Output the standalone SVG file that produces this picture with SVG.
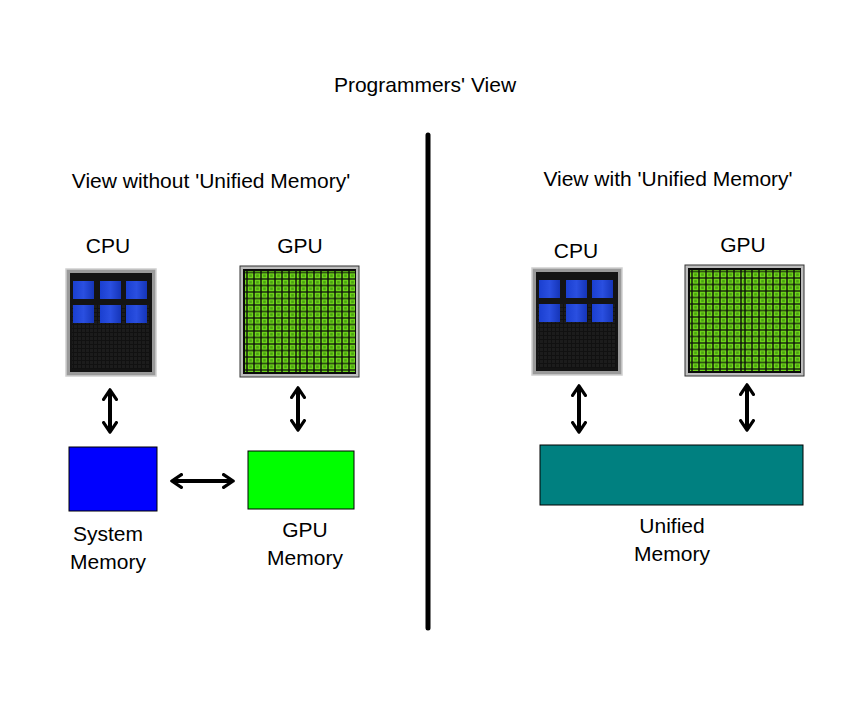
<svg xmlns="http://www.w3.org/2000/svg" width="850" height="708" viewBox="0 0 850 708">
<style>
text{font-family:"Liberation Sans",Arial,sans-serif;font-size:21px;fill:#000;text-anchor:middle}
.arr{stroke:#000;stroke-width:4;fill:none;stroke-linecap:round;stroke-linejoin:round}
</style>
<defs>
<pattern id="g" x="0" y="0" width="7" height="6.5" patternUnits="userSpaceOnUse">
<rect width="7" height="6.5" fill="#0a0a0a"/>
<rect x="0.7" y="0.6" width="5.6" height="5.3" fill="#6fd61a"/>
<rect x="2.2" y="2" width="2.6" height="2.5" fill="#4aa012"/>
</pattern>
<pattern id="d" width="4" height="4" patternUnits="userSpaceOnUse">
<rect width="4" height="4" fill="#111"/><rect width="3" height="3" fill="#1c1c1c"/>
</pattern>
<linearGradient id="b" x1="0" x2="1"><stop offset="0" stop-color="#1a3fd0"/><stop offset="0.5" stop-color="#2a4fe0"/><stop offset="1" stop-color="#1535b8"/></linearGradient>
<g id="cpu">
<rect x="0" y="0" width="90" height="107" fill="#9a9a9a" stroke="#cfcfcf" stroke-width="1.5"/>
<rect x="4" y="4" width="82" height="99" fill="#141414"/>
<rect x="6" y="36" width="78" height="64" fill="url(#d)"/>
<rect x="7" y="12" width="21" height="18" fill="url(#b)"/>
<rect x="34" y="12" width="21" height="18" fill="url(#b)"/>
<rect x="60" y="12" width="21" height="18" fill="url(#b)"/>
<rect x="7" y="36" width="21" height="18" fill="url(#b)"/>
<rect x="34" y="36" width="21" height="18" fill="url(#b)"/>
<rect x="60" y="36" width="21" height="18" fill="url(#b)"/>
</g>
<g id="gpu">
<rect x="0" y="0" width="119" height="111" fill="#bdbdbd" stroke="#333" stroke-width="1"/>
<rect x="3" y="3" width="113" height="105" fill="#0a0a0a"/>
<rect x="5" y="5" width="56" height="101" fill="url(#g)"/>
<rect x="62" y="5" width="56" height="101" fill="url(#g)" transform="translate(-3 0)"/>
</g>
<marker id="ah" viewBox="0 0 10 10" refX="5" refY="5" markerWidth="4" markerHeight="4" orient="auto-start-reverse" markerUnits="strokeWidth">
<polyline points="1,1 7,5 1,9" fill="none" stroke="#000" stroke-width="2" stroke-linecap="round" stroke-linejoin="round"/>
</marker>
</defs>
<rect width="850" height="708" fill="#fff"/>
<text x="425" y="92">Programmers' View</text>
<text x="211" y="188">View without 'Unified Memory'</text>
<text x="668" y="186">View with 'Unified Memory'</text>
<g id="divider"><line x1="428" y1="135" x2="428" y2="628" stroke="#000" stroke-width="5" stroke-linecap="round"/></g>
<g id="cpu-left"><text x="108" y="253">CPU</text><use href="#cpu" x="66" y="269"/></g>
<g id="gpu-left"><text x="300" y="253">GPU</text><use href="#gpu" x="240" y="266"/></g>
<g id="cpu-right"><text x="576" y="258">CPU</text><use href="#cpu" x="532" y="268"/></g>
<g id="gpu-right"><text x="743" y="252">GPU</text><use href="#gpu" x="685" y="265"/></g>
<g id="sysmem"><rect x="69" y="447" width="88" height="64" fill="#0000ff" stroke="#000" stroke-width="1"/><text x="108" y="541">System</text><text x="108" y="569">Memory</text></g>
<g id="gpumem"><rect x="248" y="451" width="106" height="58" fill="#00ff00" stroke="#000" stroke-width="1"/><text x="305" y="537">GPU</text><text x="305" y="565">Memory</text></g>
<g id="unimem"><rect x="540" y="445" width="263" height="60" fill="#008080" stroke="#000" stroke-width="1"/><text x="672" y="533">Unified</text><text x="672" y="561">Memory</text></g>
<g id="connectors">
<line class="arr" x1="110" y1="393" x2="110" y2="429" marker-start="url(#ah)" marker-end="url(#ah)"/>
<line class="arr" x1="298" y1="391" x2="298" y2="427" marker-start="url(#ah)" marker-end="url(#ah)"/>
<line class="arr" x1="579" y1="389" x2="579" y2="429" marker-start="url(#ah)" marker-end="url(#ah)"/>
<line class="arr" x1="747" y1="388" x2="747" y2="427" marker-start="url(#ah)" marker-end="url(#ah)"/>
<line class="arr" x1="175" y1="481" x2="230" y2="481" marker-start="url(#ah)" marker-end="url(#ah)"/>
</g>
</svg>
